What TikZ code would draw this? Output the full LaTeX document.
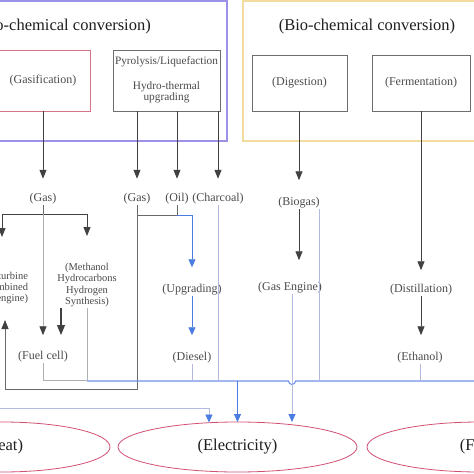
\documentclass[tikz,border=0pt]{standalone}
\usepackage{fontspec}
\setmainfont{Liberation Serif}
\usetikzlibrary{arrows.meta,shapes.geometric}
\definecolor{dk}{RGB}{65,65,65}
\definecolor{mdg}{RGB}{105,105,105}
\definecolor{lg}{RGB}{175,175,175}
\definecolor{bl}{RGB}{75,125,225}
\definecolor{busc}{RGB}{110,145,230}
\definecolor{lav}{RGB}{180,185,228}
\definecolor{thc}{RGB}{155,145,232}
\definecolor{bic}{RGB}{244,220,160}
\definecolor{gfc}{RGB}{215,115,135}
\definecolor{boxg}{RGB}{110,110,110}
\definecolor{ellc}{RGB}{210,80,115}
\definecolor{txt}{RGB}{75,75,75}
\definecolor{ttl}{RGB}{30,30,30}
\begin{document}
\begin{tikzpicture}[x=1pt,y=-1pt,
  lbl/.style={font=\fontsize{12}{13}\selectfont, text=txt, inner sep=1pt, outer sep=0pt, text height=8pt, text depth=2.5pt},
  mlbl/.style={font=\fontsize{10.5}{11.3}\selectfont, text=txt, inner sep=1pt, outer sep=0pt},
  ttlf/.style={font=\fontsize{16.5}{18}\selectfont, text=ttl, inner sep=0pt},
  boxn/.style={draw=boxg, line width=0.8pt, inner sep=0pt, outer sep=0pt, font=\fontsize{12}{13}\selectfont, text=txt},
  ell/.style={ellipse, draw=ellc, line width=0.8pt, inner sep=0pt, outer sep=0pt, minimum height=50pt, font=\fontsize{16.5}{18}\selectfont, text=ttl},
  tipd/.style={-{Triangle[width=7pt,length=9pt,color=dk]}},
  tipb/.style={-{Triangle[width=7pt,length=8pt,color=bl]}},
  darr/.style={draw=dk, line width=0.9pt, tipd},
  barr/.style={draw=bl, line width=0.9pt, tipb},
  gline/.style={draw=lg, line width=0.8pt},
  lline/.style={draw=lav, line width=0.9pt},
  mline/.style={draw=mdg, line width=0.9pt}
]
\useasboundingbox (0,0) rectangle (474,474);
\fill[white] (0,0) rectangle (474,474);

% containers
\draw[draw=thc, line width=1.1pt] (-20,1) rectangle (227,141);
\draw[draw=bic, line width=1.1pt] (243,1) rectangle (490,141);
\node[ttlf, anchor=east] (thtitle) at (151,27) {(Thermo-chemical conversion)};
\node[ttlf] (bititle) at (367,27) {(Bio-chemical conversion)};

% process boxes
\node[boxn, draw=gfc, minimum width=94pt, minimum height=61pt] (gasif) at (43,80.5) {(Gasification)};
\node[boxn, minimum width=107pt, minimum height=61pt] (pyr) at (166.5,80.5) {};
\node[font=\fontsize{11.3}{12}\selectfont, text=txt, inner sep=0pt] (pyrt) at (166.5,62) {Pyrolysis/Liquefaction};
\node[font=\fontsize{11.3}{10}\selectfont, text=txt, inner sep=0pt, align=center] (hydro) at (166.5,92) {Hydro-thermal\\upgrading};
\node[boxn, minimum width=95pt, minimum height=56pt] (dig) at (299.5,83) {(Digestion)};
\node[boxn, minimum width=98pt, minimum height=56pt] (ferm) at (421,83) {(Fermentation)};

% labels
\node[lbl] (gas1) at (43,199) {(Gas)};
\node[lbl] (gas2) at (137,199) {(Gas)};
\node[lbl] (oil) at (177,199) {(Oil)};
\node[lbl] (char) at (218,199) {(Charcoal)};
\node[lbl] (biogas) at (299,203) {(Biogas)};
\node[lbl] (upg) at (192,290) {(Upgrading)};
\node[lbl] (gaseng) at (290,288) {(Gas Engine)};
\node[lbl] (dist) at (421,290) {(Distillation)};
\node[lbl] (fuelcell) at (43,357) {(Fuel cell)};
\node[lbl] (diesel) at (192,358) {(Diesel)};
\node[lbl] (ethanol) at (420,358) {(Ethanol)};
\node[mlbl, align=center] (meth) at (87,285) {(Methanol\\Hydrocarbons\\Hydrogen\\Synthesis)};
\node[mlbl, align=right, anchor=east] (gturb) at (29,288) {(Gas turbine\\Combined\\engine)};

% products
\node[ell, minimum width=216pt] (heat) at (2,447) {(Heat)};
\node[ell, minimum width=239pt] (elec) at (237.5,447) {(Electricity)};
\node[ell, minimum width=226pt] (fuel) at (480,447) {(Fuel)};

% coordinates
\coordinate (gsplit) at (43,214);
\coordinate (gtin) at (2,237);
\coordinate (methin) at (87,236);
\coordinate (s1) at (61,308);
\coordinate (s1tip) at (61,335);
\coordinate (loopbot) at (5,389);
\coordinate (gtup) at (5,320);
\coordinate (oilj) at (177,215);
\coordinate (busa) at (43,380);
\coordinate (busb) at (87,381);
\coordinate (hop) at (292,381);
\coordinate (busR) at (476,381);
\coordinate (hl) at (-2,408);
\coordinate (hlc) at (209,408);
\coordinate (hlt) at (209,422.5);
\coordinate (geT) at (292,422);

% connectors from boxes
\draw[darr] (gasif.south) -- ([yshift=14pt]gas1.north);
\draw[darr] (pyr.south -| gas2) -- ([yshift=14pt]gas2.north);
\draw[darr] (pyr.south -| oil) -- ([yshift=14pt]oil.north);
\draw[darr] (pyr.south -| char) -- ([yshift=14pt]char.north);
\draw[darr] (dig.south -| biogas) -- ([yshift=16.5pt]biogas.north);
\draw[darr] (ferm.south) -- ([yshift=13.5pt]dist.north);
\draw[darr] (biogas.south) -- ([yshift=21.5pt]gaseng.north -| biogas);
\draw[darr] (dist.south) -- ([yshift=16.5pt]ethanol.north -| dist);

% gas branch
\draw[mline] (gas1.south) -- (gsplit);
\draw[darr] (gsplit) -| (gtin);
\draw[darr] (gsplit) -| (methin);
\draw[gline, tipd] (gsplit) -- ([yshift=15.5pt]fuelcell.north);
\draw[darr, line width=1.1pt, -{Triangle[width=8pt,length=10pt,color=dk]}] (s1) -- (s1tip);
\draw[mline, tipd] (gas2.south) |- (loopbot) -- (gtup);

% oil branch
\draw[mline] (oil.south) -- (oilj) -- (oilj -| gas2);
\draw[barr] (oilj) -| ([yshift=16.5pt]upg.north);
\draw[barr] (upg.south) -- ([yshift=16.5pt]diesel.north);

% collector bus
\draw[gline] (fuelcell.south) -- (busa) -- (busa -| meth);
\draw[gline] (meth.south) -- (busa -| meth);
\draw[busc, line width=1.1pt] (busb) -- ([xshift=-3.5pt]hop) arc[start angle=180, end angle=360, radius=3.5pt] -- (busR);
\draw[lline] (diesel.south) -- (diesel.south |- busb);
\draw[lline] (char.south) -- (char.south |- busb);
\draw[lline] ([xshift=-1.5pt]biogas.south east) -- ([xshift=-1.5pt]biogas.south east |- busb);
\draw[lline] (ethanol.south) -- (ethanol.south |- busb);

% to products
\draw[barr] (elec.north |- busb) -- (elec.north);
\draw[lline, line width=0.9pt, tipb] ([xshift=2pt]gaseng.south) -- (geT);
\draw[lline, tipb] (hl) -- (hlc) -- (hlt);
\end{tikzpicture}
\end{document}
